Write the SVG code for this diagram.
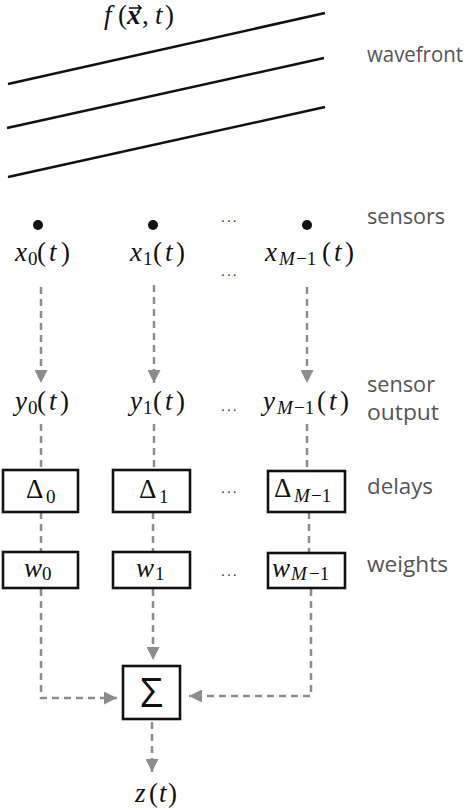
<svg xmlns="http://www.w3.org/2000/svg" width="474" height="810" viewBox="0 0 474 810">
<style>
.wave{stroke:#111;stroke-width:2.5;fill:none}
.lbl{font-family:"Open Sans","Liberation Sans",sans-serif;font-size:22.5px;fill:#555}
.m{font-family:"Liberation Serif","DejaVu Serif",serif;font-style:italic;font-size:27px;fill:#111}
.r{font-family:"Liberation Serif","DejaVu Serif",serif;font-style:normal;font-size:27px;fill:#111}
.s{font-family:"Liberation Serif","DejaVu Serif",serif;font-style:normal;font-size:19px;fill:#111}
.si{font-family:"Liberation Serif","DejaVu Serif",serif;font-style:italic;font-size:19px;fill:#111}
.dots{font-family:"Liberation Sans",sans-serif;font-size:14px;fill:#222;letter-spacing:2px}
.box{fill:#fff;stroke:#111;stroke-width:2.6}
.dash{stroke:#8c8c8c;stroke-width:2.5;stroke-dasharray:7 5;fill:none}
</style>
<defs>
<marker id="ah" viewBox="0 0 10 10" refX="10" refY="5" markerWidth="5.2" markerHeight="5.2" orient="auto" markerUnits="strokeWidth">
<path d="M0,0 L10,5 L0,10 Z" fill="#8c8c8c"/>
</marker>
</defs>
<g id="wavefront">
<line class="wave" x1="8" y1="84" x2="325" y2="13"/>
<line class="wave" x1="7" y1="128" x2="324" y2="58"/>
<line class="wave" x1="8" y1="177" x2="325" y2="107"/>
<text y="24"><tspan class="m" x="104">f</tspan><tspan class="r" x="118">(</tspan><tspan class="m" x="127" font-weight="bold">x</tspan><tspan class="r" x="142">,</tspan><tspan class="m" x="155">t</tspan><tspan class="r" x="165">)</tspan></text>
<path d="M129,8 L141,8 M138,5 L141,8 L138,11" stroke="#111" stroke-width="1.6" fill="none"/>
<text class="lbl" x="367" y="62" textLength="96" lengthAdjust="spacingAndGlyphs">wavefront</text>
</g>
<g id="labels">
<text class="lbl" x="367" y="224" textLength="78" lengthAdjust="spacingAndGlyphs">sensors</text>
<text class="lbl" x="367" y="392" textLength="68" lengthAdjust="spacingAndGlyphs">sensor</text>
<text class="lbl" x="367" y="420" textLength="72" lengthAdjust="spacingAndGlyphs">output</text>
<text class="lbl" x="367" y="494" textLength="66" lengthAdjust="spacingAndGlyphs">delays</text>
<text class="lbl" x="367" y="572" textLength="81" lengthAdjust="spacingAndGlyphs">weights</text>
</g>
<g id="sensor0">
<circle cx="38" cy="225" r="5" fill="#111"/>
<text y="261"><tspan class="m" x="15">x</tspan><tspan class="s" x="28" y="265">0</tspan><tspan class="r" x="37" y="261">(</tspan><tspan class="m" x="49">t</tspan><tspan class="r" x="61">)</tspan></text>
</g>
<g id="sensor1">
<circle cx="153" cy="225" r="5" fill="#111"/>
<text y="261"><tspan class="m" x="130">x</tspan><tspan class="s" x="143" y="265">1</tspan><tspan class="r" x="153" y="261">(</tspan><tspan class="m" x="165">t</tspan><tspan class="r" x="176">)</tspan></text>
</g>
<g id="sensorM">
<circle cx="307" cy="225" r="5" fill="#111"/>
<text y="261"><tspan class="m" x="265">x</tspan><tspan class="si" x="279" y="265">M</tspan><tspan class="s" x="296">−1</tspan><tspan class="r" x="322" y="261">(</tspan><tspan class="m" x="334">t</tspan><tspan class="r" x="345">)</tspan></text>
</g>
<g id="ellipses">
<text class="dots" x="221" y="222">...</text>
<text class="dots" x="221" y="276">...</text>
<text class="dots" x="221" y="411">...</text>
<text class="dots" x="221" y="493">...</text>
<text class="dots" x="221" y="576">...</text>
</g>
<g id="output0"><text y="410"><tspan class="m" x="15">y</tspan><tspan class="s" x="28" y="414">0</tspan><tspan class="r" x="37" y="410">(</tspan><tspan class="m" x="49">t</tspan><tspan class="r" x="60">)</tspan></text></g>
<g id="output1"><text y="410"><tspan class="m" x="130">y</tspan><tspan class="s" x="143" y="414">1</tspan><tspan class="r" x="153" y="410">(</tspan><tspan class="m" x="165">t</tspan><tspan class="r" x="176">)</tspan></text></g>
<g id="outputM"><text y="410"><tspan class="m" x="263">y</tspan><tspan class="si" x="277" y="414">M</tspan><tspan class="s" x="294">−1</tspan><tspan class="r" x="317" y="410">(</tspan><tspan class="m" x="329">t</tspan><tspan class="r" x="340">)</tspan></text></g>
<g id="connectors">
<line class="dash" x1="41" y1="287" x2="41" y2="383" marker-end="url(#ah)"/>
<line class="dash" x1="154" y1="285" x2="154" y2="383" marker-end="url(#ah)"/>
<line class="dash" x1="307" y1="287" x2="307" y2="383" marker-end="url(#ah)"/>
<line class="dash" x1="41" y1="424" x2="41" y2="470"/>
<line class="dash" x1="154" y1="424" x2="154" y2="470"/>
<line class="dash" x1="307" y1="424" x2="307" y2="470"/>
<line class="dash" x1="41" y1="512" x2="41" y2="552"/>
<line class="dash" x1="153" y1="512" x2="153" y2="552"/>
<line class="dash" x1="309" y1="512" x2="309" y2="552"/>
<polyline class="dash" points="41,589 41,698 117,698" marker-end="url(#ah)"/>
<line class="dash" x1="153" y1="589" x2="153" y2="660" marker-end="url(#ah)"/>
<polyline class="dash" points="311,589 311,696 189,696" marker-end="url(#ah)"/>
<line class="dash" x1="152" y1="722" x2="152" y2="772" marker-end="url(#ah)"/>
</g>
<g id="delay0"><rect class="box" x="3" y="470" width="75" height="42"/>
<text y="498"><tspan class="r" x="26">Δ</tspan><tspan class="s" x="46" y="503">0</tspan></text></g>
<g id="delay1"><rect class="box" x="113" y="470" width="77" height="42"/>
<text y="498"><tspan class="r" x="139">Δ</tspan><tspan class="s" x="159" y="503">1</tspan></text></g>
<g id="delayM"><rect class="box" x="268" y="471" width="77" height="41"/>
<text y="497"><tspan class="r" x="274">Δ</tspan><tspan class="si" x="294" y="502">M</tspan><tspan class="s" x="311">−1</tspan></text></g>
<g id="weight0"><rect class="box" x="3" y="552" width="75" height="36"/>
<text y="577"><tspan class="m" x="24">w</tspan><tspan class="s" x="42" y="580">0</tspan></text></g>
<g id="weight1"><rect class="box" x="113" y="552" width="77" height="36"/>
<text y="577"><tspan class="m" x="136">w</tspan><tspan class="s" x="155" y="580">1</tspan></text></g>
<g id="weightM"><rect class="box" x="268" y="553" width="77" height="35"/>
<text y="577"><tspan class="m" x="272">w</tspan><tspan class="si" x="291" y="580">M</tspan><tspan class="s" x="309">−1</tspan></text></g>
<g id="sum"><rect class="box" x="123" y="666" width="57" height="53"/>
<text x="151.5" y="707" text-anchor="middle" font-family="'Open Sans','Liberation Sans',sans-serif" font-size="40" fill="#111">Σ</text></g>
<g id="out"><text y="802"><tspan class="m" x="135">z</tspan><tspan class="r" x="149">(</tspan><tspan class="m" x="159">t</tspan><tspan class="r" x="168">)</tspan></text></g>
</svg>
